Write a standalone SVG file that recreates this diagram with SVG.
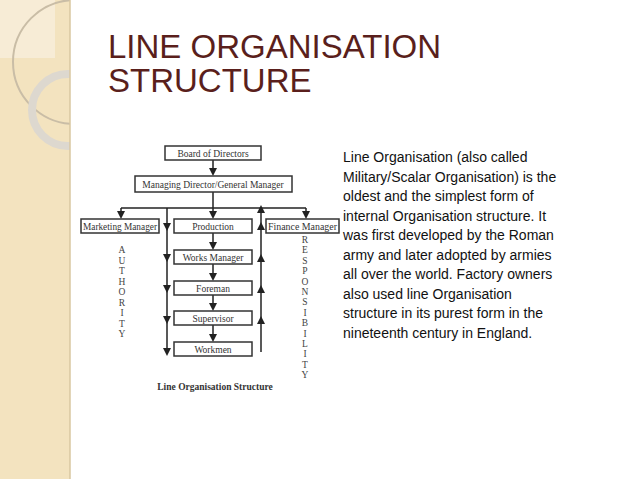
<svg xmlns="http://www.w3.org/2000/svg" width="638" height="479" viewBox="0 0 638 479">
<defs>
<marker id="ah" markerWidth="8" markerHeight="8" refX="4" refY="4" orient="auto" markerUnits="userSpaceOnUse"><path d="M0,0 L8,4 L0,8 z" fill="#222"/></marker>
<clipPath id="side"><rect x="0" y="0" width="70" height="479"/></clipPath>
<style>
.b{fill:#fff;stroke:#333;stroke-width:1.5}
.t{font-family:"Liberation Serif",serif;font-size:9.5px;fill:#333;text-anchor:middle}
.l{stroke:#222;stroke-width:1.5;fill:none}
.v{font-family:"Liberation Serif",serif;font-size:9.5px;fill:#444;text-anchor:middle}
.p{font-family:"Liberation Sans",sans-serif;font-size:14px;fill:#111}
</style>
</defs>
<rect width="638" height="479" fill="#fff"/>
<g clip-path="url(#side)">
<rect x="0" y="0" width="70" height="479" fill="#f3e3bf"/>
<rect x="0" y="0" width="55" height="58" fill="#f7ecd6"/>
<circle cx="75" cy="62" r="62" fill="none" stroke="#c9bda6" stroke-width="2"/>
<circle cx="68" cy="110" r="36" fill="none" stroke="#ddd8cf" stroke-width="8"/>
</g>
<line x1="70" y1="0" x2="70" y2="479" stroke="#d8c7a0" stroke-width="1.5"/>
<text x="108" y="58" font-family="Liberation Sans,sans-serif" font-size="33" fill="#5a1f1c">LINE ORGANISATION</text>
<text x="108" y="92" font-family="Liberation Sans,sans-serif" font-size="33" fill="#5a1f1c">STRUCTURE</text>
<g id="connectors">
<line class="l" x1="213" y1="160" x2="213" y2="172" marker-end="url(#ah)"/>
<line class="l" x1="213" y1="192" x2="213" y2="208"/>
<line class="l" x1="121" y1="208" x2="306" y2="208"/>
<line class="l" x1="121" y1="208" x2="121" y2="215" marker-end="url(#ah)"/>
<line class="l" x1="213" y1="208" x2="213" y2="215" marker-end="url(#ah)"/>
<line class="l" x1="306" y1="208" x2="306" y2="215" marker-end="url(#ah)"/>
<line class="l" x1="213" y1="233" x2="213" y2="246" marker-end="url(#ah)"/>
<line class="l" x1="213" y1="264" x2="213" y2="277" marker-end="url(#ah)"/>
<line class="l" x1="213" y1="295" x2="213" y2="307" marker-end="url(#ah)"/>
<line class="l" x1="213" y1="325" x2="213" y2="338" marker-end="url(#ah)"/>
<polyline class="l" points="167,208 167,227" marker-end="url(#ah)"/>
<polyline class="l" points="167,227 167,258" marker-end="url(#ah)"/>
<polyline class="l" points="167,258 167,289" marker-end="url(#ah)"/>
<polyline class="l" points="167,289 167,320" marker-end="url(#ah)"/>
<polyline class="l" points="167,320 167,352" marker-end="url(#ah)"/>
<polyline class="l" points="261,352 261,320" marker-end="url(#ah)"/>
<polyline class="l" points="261,320 261,289" marker-end="url(#ah)"/>
<polyline class="l" points="261,289 261,258" marker-end="url(#ah)"/>
<polyline class="l" points="261,258 261,226" marker-end="url(#ah)"/>
<polyline class="l" points="261,226 261,209" marker-end="url(#ah)"/>
</g>
<g id="board"><rect class="b" x="165" y="146" width="96" height="14"/><text class="t" x="213" y="156.5">Board of Directors</text></g>
<g id="md"><rect class="b" x="135" y="176" width="157" height="16"/><text class="t" x="213" y="187.5">Managing Director/General Manager</text></g>
<g id="marketing"><rect class="b" x="81" y="219" width="78" height="14"/><text class="t" x="120" y="229.5" textLength="74" lengthAdjust="spacingAndGlyphs">Marketing Manager</text></g>
<g id="production"><rect class="b" x="174" y="219" width="78" height="14"/><text class="t" x="213" y="229.5">Production</text></g>
<g id="finance"><rect class="b" x="266" y="219" width="73" height="14"/><text class="t" x="302.5" y="229.5" textLength="69" lengthAdjust="spacingAndGlyphs">Finance Manager</text></g>
<g id="works"><rect class="b" x="174" y="250" width="78" height="14"/><text class="t" x="213" y="260.5">Works Manager</text></g>
<g id="foreman"><rect class="b" x="174" y="281" width="78" height="14"/><text class="t" x="213" y="291.5">Foreman</text></g>
<g id="supervisor"><rect class="b" x="174" y="311" width="78" height="14"/><text class="t" x="213" y="321.5">Supervisor</text></g>
<g id="workmen"><rect class="b" x="174" y="342" width="78" height="14"/><text class="t" x="213" y="352.5">Workmen</text></g>
<g id="authority" class="v">
<text x="122" y="253">A</text><text x="122" y="263.5">U</text><text x="122" y="274">T</text><text x="122" y="284.5">H</text><text x="122" y="295">O</text><text x="122" y="305.5">R</text><text x="122" y="316">I</text><text x="122" y="326.5">T</text><text x="122" y="337">Y</text>
</g>
<g id="responsibility" class="v">
<text x="305" y="243">R</text><text x="305" y="253.4">E</text><text x="305" y="263.8">S</text><text x="305" y="274.2">P</text><text x="305" y="284.6">O</text><text x="305" y="295">N</text><text x="305" y="305.4">S</text><text x="305" y="315.8">I</text><text x="305" y="326.2">B</text><text x="305" y="336.6">I</text><text x="305" y="347">L</text><text x="305" y="357.4">I</text><text x="305" y="367.8">T</text><text x="305" y="378.2">Y</text>
</g>
<text x="215" y="390" font-family="Liberation Serif,serif" font-size="9.5" font-weight="bold" fill="#333" text-anchor="middle">Line Organisation Structure</text>
<g id="body" class="p">
<text x="343" y="162">Line Organisation (also called</text>
<text x="343" y="181.5">Military/Scalar Organisation) is the</text>
<text x="343" y="201">oldest and the simplest form of</text>
<text x="343" y="220.5">internal Organisation structure. It</text>
<text x="343" y="240">was first developed by the Roman</text>
<text x="343" y="259.5">army and later adopted by armies</text>
<text x="343" y="279">all over the world. Factory owners</text>
<text x="343" y="298.5">also used line Organisation</text>
<text x="343" y="318">structure in its purest form in the</text>
<text x="343" y="337.5">nineteenth century in England.</text>
</g>
</svg>
